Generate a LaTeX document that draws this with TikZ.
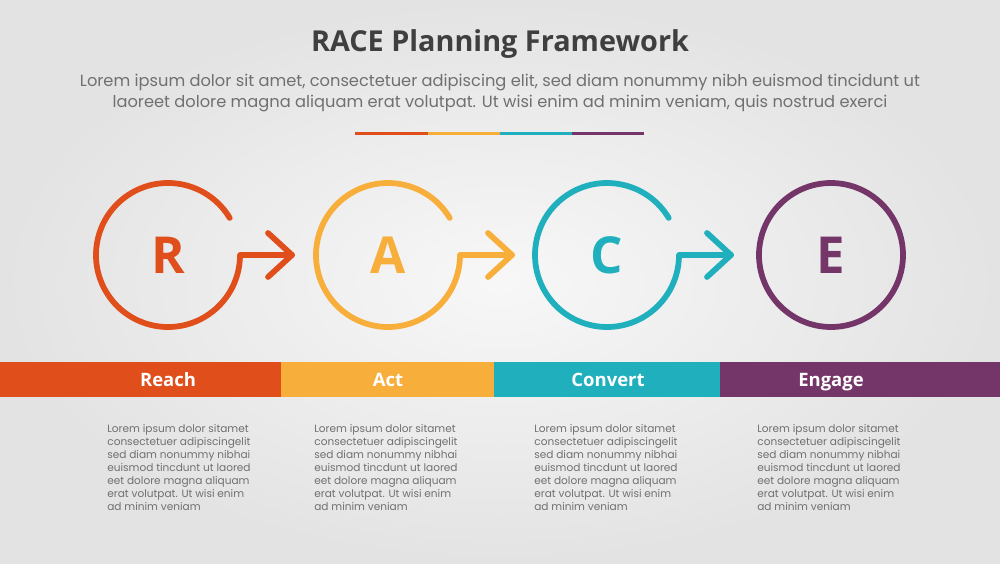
\documentclass[tikz,border=0pt]{standalone}
\usepackage{fontspec}
\setmainfont{Poppins}
\newfontfamily\headfont{Open Sans}
\usetikzlibrary{calc}

\definecolor{reachc}{HTML}{E04E1B}
\definecolor{actc}{HTML}{F7AE3A}
\definecolor{convc}{HTML}{20AFBD}
\definecolor{engc}{HTML}{743668}
\definecolor{titlec}{HTML}{3F3F3F}
\definecolor{bodyc}{HTML}{707070}

\newcommand{\parabody}{Lorem ipsum dolor sitamet\\consectetuer adipiscingelit\\sed diam nonummy nibhai\\euismod tincdunt ut laored\\eet dolore magna aliquam\\erat volutpat. Ut wisi enim\\ad minim veniam}

\begin{document}
\begin{tikzpicture}[x=0.2mm,y=0.2mm,
	letter/.style={font=\headfont\bfseries\fontsize{29}{29}\selectfont},
	ring/.style={line width=1.15mm, line cap=round, line join=round},
	barlabel/.style={text=white, text height=1.6ex, text depth=0.3ex, font=\headfont\bfseries\fontsize{10.5}{12}\selectfont},
	para/.style={anchor=north west, inner sep=0pt, align=left, text=bodyc, font=\fontsize{6.0}{7.45}\selectfont}]
	\useasboundingbox (0,0) rectangle (1000,563);
	\shade[inner color=white!97!black, outer color=white!89!black] (0,0) rectangle (1000,563);	% Fundo
	
	% Titulo
	\node[text=titlec, font=\headfont\bfseries\fontsize{16.4}{19}\selectfont] (title) at (500,519) {RACE Planning Framework};
	\node[text=bodyc, align=center, font=\fontsize{9.25}{12}\selectfont] (sub) at (500,470)
		{Lorem ipsum dolor sit amet, consectetuer adipiscing elit, sed diam nonummy nibh euismod tincidunt ut\\
		 laoreet dolore magna aliquam erat volutpat. Ut wisi enim ad minim veniam, quis nostrud exerci};
	\draw[reachc, line width=0.6mm] (355,430) -- (428,430);
	\draw[actc, line width=0.6mm] (428,430) -- (500,430);
	\draw[convc, line width=0.6mm] (500,430) -- (572,430);
	\draw[engc, line width=0.6mm] (572,430) -- (644,430);
	
	% Letras
	\node[letter, text=reachc] (r) at (168,308) {R};
	\node[letter, text=actc]   (a) at (388,308) {A};
	\node[letter, text=convc]  (c) at (607,308) {C};
	\node[letter, text=engc]   (e) at (831,308) {E};
	
	\coordinate (rtip) at ($(r)+(124,0)$);
	\coordinate (atip) at ($(a)+(124,0)$);
	\coordinate (ctip) at ($(c)+(124,0)$);
	
	% Circulos e setas
	\draw[ring, reachc] ($(r)+(31:72)$) arc[start angle=31, end angle=360, radius=72] -- (rtip);
	\draw[ring, reachc] ($(rtip)+(-24,22)$) -- (rtip) -- ($(rtip)+(-24,-22)$);
	\draw[ring, actc] ($(a)+(31:72)$) arc[start angle=31, end angle=360, radius=72] -- (atip);
	\draw[ring, actc] ($(atip)+(-24,22)$) -- (atip) -- ($(atip)+(-24,-22)$);
	\draw[ring, convc] ($(c)+(31:72)$) arc[start angle=31, end angle=360, radius=72] -- (ctip);
	\draw[ring, convc] ($(ctip)+(-24,22)$) -- (ctip) -- ($(ctip)+(-24,-22)$);
	\draw[ring, engc] (e) circle[radius=72];
	
	% Barra
	\fill[reachc] (0,166) rectangle (281,201);
	\fill[actc] (281,166) rectangle (494,201);
	\fill[convc] (494,166) rectangle (720,201);
	\fill[engc] (720,166) rectangle (1000,201);
	\node[barlabel] (lr) at (168,182.5) {Reach};
	\node[barlabel] (la) at (388,182.5) {Act};
	\node[barlabel] (lc) at (608,182.5) {Convert};
	\node[barlabel] (le) at (831,182.5) {Engage};
	
	% Textos
	\node[para] (pr) at (107,139) {\parabody};
	\node[para] (pa) at (314,139) {\parabody};
	\node[para] (pc) at (534,139) {\parabody};
	\node[para] (pe) at (757,139) {\parabody};
\end{tikzpicture}
\end{document}
